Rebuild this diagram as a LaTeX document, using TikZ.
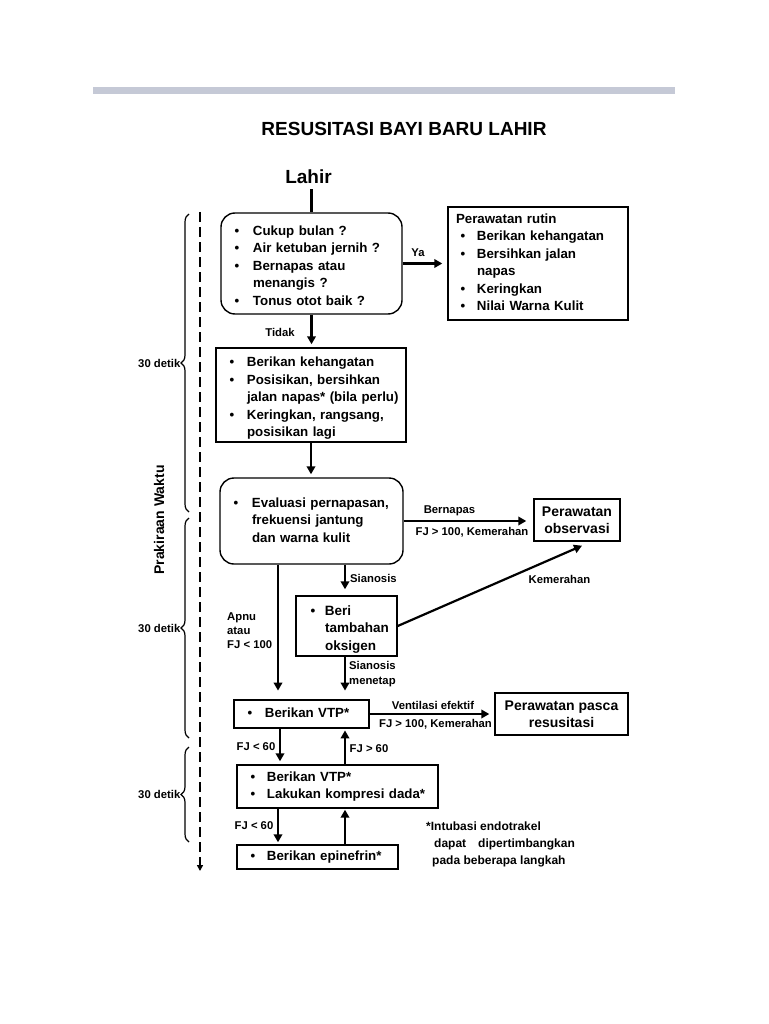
\documentclass[tikz,border=0pt]{standalone}
\usepackage{fontspec}
\setmainfont{Liberation Sans}
\usetikzlibrary{arrows.meta,decorations.pathreplacing}
\definecolor{barcol}{RGB}{197,201,214}
\newcommand{\bodyfont}{\fontsize{13.3}{17.5}\selectfont\bfseries}
\newcommand{\lblfont}{\fontsize{11.3}{14}\selectfont\bfseries}
\newcommand{\blist}[3]{\begin{tabular}{@{\hspace{#1}}p{#2}@{}l@{}}#3\end{tabular}}
\newcommand{\dn}{\rule{0pt}{18.5pt}}
\begin{document}
\begin{tikzpicture}[x=1pt,y=-1pt,
  box/.style={draw, line width=1.4pt, inner xsep=8pt, inner ysep=0pt, align=left, font=\bodyfont},
  rbox/.style={box, rounded corners=14pt},
  cbox/.style={draw, line width=1.4pt, inner sep=0pt, align=center, font=\fontsize{14}{16.5}\selectfont\bfseries},
  arr/.style={line width=2.2pt, -{Triangle[length=8pt,width=8.5pt]}},
  lbl/.style={font=\lblfont, inner sep=0pt},
  brc/.style={line width=1.2pt, decorate, decoration={brace, amplitude=8pt}},
  ]
\useasboundingbox (0,0) rectangle (768,1024);
\fill[white] (0,0) rectangle (768,1024);
\fill[barcol] (93,87) rectangle (675,94);

\node[font=\fontsize{19}{22}\selectfont\bfseries, inner sep=0pt] (title) at (404,129) {RESUSITASI BAYI BARU LAHIR};
\node[font=\fontsize{19}{22}\selectfont\bfseries, inner sep=0pt] (lahir) at (308.5,177) {Lahir};

% boxes
\node[rbox, text width=165pt, minimum height=101pt] (q) at (311.5,263.5)
  {\blist{5.5pt}{18.5pt}{\dn\textbullet & Cukup bulan ?\\ \textbullet & Air ketuban jernih ?\\ \textbullet & Bernapas atau\\ & menangis ?\\ \textbullet & Tonus otot baik ?}};
\node[box, text width=164pt, minimum height=113pt] (rutin) at (538,263.5)
  {\blist{4.5pt}{16.5pt}{\multicolumn{2}{@{}l@{}}{Perawatan rutin}\\ \textbullet & Berikan kehangatan\\ \textbullet & Bersihkan jalan\\ & napas\\ \textbullet & Keringkan\\ \textbullet & Nilai Warna Kulit}};
\node[box, text width=174pt, minimum height=94pt] (warm) at (311,395)
  {\blist{5.5pt}{17.5pt}{\dn\textbullet & Berikan kehangatan\\ \textbullet & Posisikan, bersihkan\\ & jalan napas* (bila perlu)\\ \textbullet & Keringkan, rangsang,\\ & posisikan lagi}};
\node[rbox, text width=167pt, minimum height=86pt] (ev) at (311.5,521)
  {\blist{5.5pt}{18.5pt}{\textbullet & Evaluasi pernapasan,\\ & frekuensi jantung\\ & dan warna kulit}};
\node[cbox, minimum width=86pt, minimum height=42pt] (obs) at (577,520) {Perawatan\\observasi};
\node[box, text width=85pt, minimum height=60pt, font=\fontsize{13.5}{17.5}\selectfont\bfseries] (oks) at (346.5,626)
  {\blist{6.5pt}{14.5pt}{\dn\textbullet & Beri\\ & tambahan\\ & oksigen}};
\node[box, line width=2.8pt, text width=119pt, minimum height=28pt] (vtp) at (301.5,714)
  {\blist{5.5pt}{17.5pt}{\textbullet & Berikan VTP*}};
\node[cbox, minimum width=133pt, minimum height=42pt, font=\fontsize{14}{17}\selectfont\bfseries] (pasca) at (561.5,714) {Perawatan pasca\\resusitasi};
\node[box, text width=185pt, minimum height=43pt] (komp) at (337.5,786.5)
  {\blist{5.5pt}{16.5pt}{\textbullet & Berikan VTP*\\ \textbullet & Lakukan kompresi dada*}};
\node[box, text width=145pt, minimum height=24pt] (epi) at (317.5,857)
  {\blist{5.5pt}{16.5pt}{\textbullet & Berikan epinefrin*}};

% connectors
\draw[line width=2.2pt, shorten <=5pt] (q.north |- lahir.south) -- (q.north);
\draw[arr, shorten >=5pt] (q.east) -- (q.east -| rutin.west);
\node[lbl] (ya) at (418,253) {Ya};
\draw[arr, shorten >=3pt] (q.south) -- (q.south |- warm.north);
\node[lbl] (tidak) at (280,332) {Tidak};
\draw[arr, shorten >=3pt] (warm.south) -- (warm.south |- ev.north);
\draw[arr, shorten >=7pt] (ev.east) -- (ev.east -| obs.west);
\node[lbl] (bern) at (449.5,511) {Bernapas};
\node[lbl] (fj1) at (472,532) {FJ > 100, Kemerahan};
\draw[arr, shorten >=8pt] (278,0 |- ev.south) -- (278,0 |- vtp.north);
\node[lbl, align=left, anchor=west] (apnu) at (227,631) {Apnu\\atau\\FJ < 100};
\draw[arr, shorten >=6pt] (345,0 |- ev.south) -- (345,0 |- oks.north);
\node[lbl, anchor=west] (sia1) at (350,578) {Sianosis};
\draw[arr, shorten >=8pt] (345,0 |- oks.south) -- (345,0 |- vtp.north);
\node[lbl, align=left, anchor=west, font=\fontsize{11.3}{15}\selectfont\bfseries] (sia2) at (349,674.5) {Sianosis\\menetap};
\draw[arr] (oks.east) -- ([xshift=5pt, yshift=-4pt]obs.south);
\node[lbl] (kem) at (559.5,579) {Kemerahan};
\draw[arr, shorten >=5pt] (vtp.east) -- (vtp.east -| pasca.west);
\node[lbl] (vent) at (433,705) {Ventilasi efektif};
\node[lbl] (fj2) at (435.5,724) {FJ > 100, Kemerahan};
\draw[arr, shorten >=3pt] (280,0 |- vtp.south) -- (280,0 |- komp.north);
\node[lbl] (fj60a) at (256,747) {FJ < 60};
\draw[arr, shorten >=1pt] (345,0 |- komp.north) -- (345,0 |- vtp.south);
\node[lbl] (fj60b) at (369,749) {FJ > 60};
\draw[arr, shorten >=2pt] (278,0 |- komp.south) -- (278,0 |- epi.north);
\node[lbl] (fj60c) at (254,826) {FJ < 60};
\draw[arr, shorten >=1pt] (345,0 |- epi.north) -- (345,0 |- komp.south);

% footnote
\node[font=\fontsize{12}{17}\selectfont\bfseries, align=left, anchor=north west, inner sep=0pt] (note) at (426,822)
  {*Intubasi endotrakel\\\hspace{8pt}dapat\hspace{12pt}dipertimbangkan\\\hspace{6pt}pada beberapa langkah};

% time axis
\coordinate (t0) at (200,212);
\coordinate (t1) at (200,871);
\draw[line width=2pt, dash pattern=on 10pt off 5pt, -{Triangle[length=6pt,width=6pt]}] (t0) -- (t1);
\coordinate (b1s) at (189,512); \coordinate (b1e) at (189,214);
\coordinate (b2s) at (189,738); \coordinate (b2e) at (189,518);
\coordinate (b3s) at (189,842); \coordinate (b3e) at (189,747);
\draw[brc] (b1s) -- (b1e);
\draw[brc] (b2s) -- (b2e);
\draw[brc] (b3s) -- (b3e);
\node[lbl, anchor=east] (d1) at (180.5,363) {30 detik};
\node[lbl, anchor=east] (d2) at (180.5,628) {30 detik};
\node[lbl, anchor=east] (d3) at (180.5,794.5) {30 detik};
\node[font=\fontsize{14}{16}\selectfont\bfseries, rotate=90, inner sep=0pt] (pw) at (159,520) {Prakiraan Waktu};
\end{tikzpicture}
\end{document}
